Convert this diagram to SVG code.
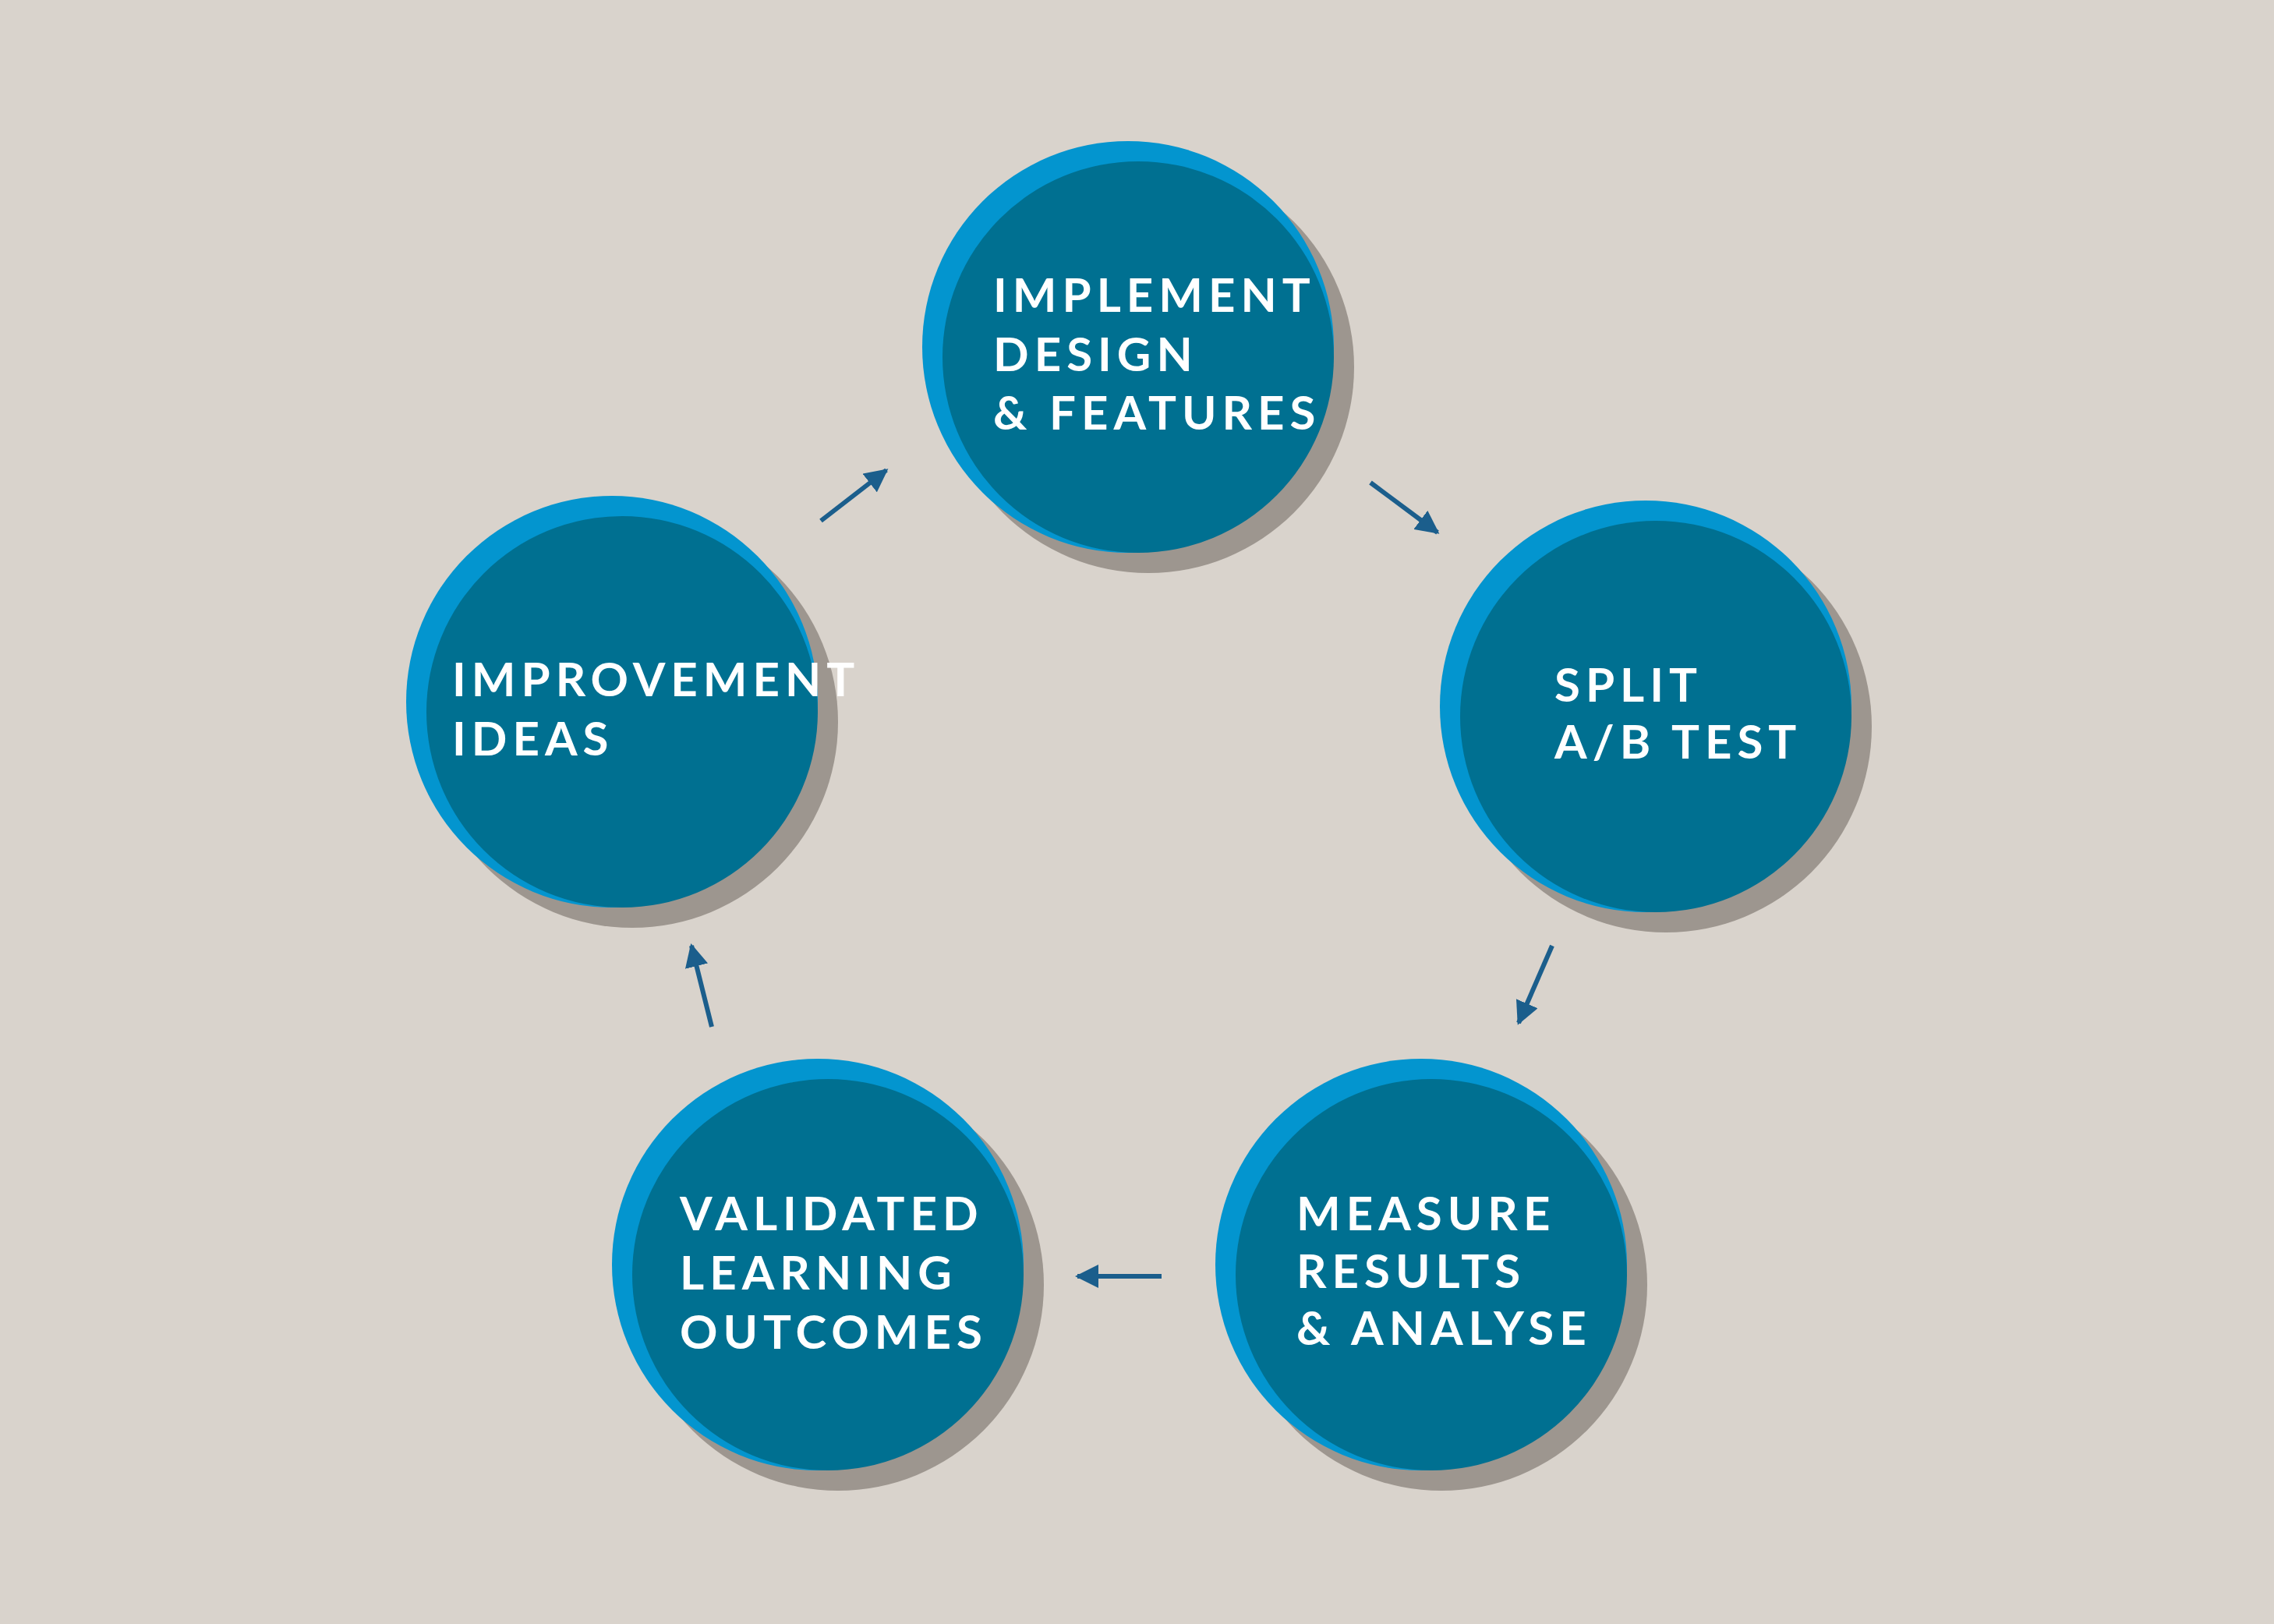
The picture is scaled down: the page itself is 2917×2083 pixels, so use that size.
<svg xmlns="http://www.w3.org/2000/svg" width="2917" height="2083" viewBox="0 0 2917 2083">
<defs>
<style>
.sh{fill:#9d968f}.lb{fill:#0395cf}.tl{fill:#007091}
.t{font-family:"Lato","Open Sans",sans-serif;font-weight:700;font-size:60px;fill:#fff;letter-spacing:7px}
.c{stroke:#1b5e8c;stroke-width:6;fill:none;marker-end:url(#ah)}
</style>
<marker id="ah" viewBox="0 0 10 10" refX="9" refY="5" markerWidth="5" markerHeight="5" orient="auto" markerUnits="strokeWidth"><path d="M0,0L10,5L0,10z" fill="#1b5e8c"/></marker>
</defs>
<rect width="2917" height="2083" fill="#d9d3cc"/>
<g id="n1"><circle class="sh" cx="1473" cy="471" r="264"/><circle class="lb" cx="1447" cy="445" r="264"/><circle class="tl" cx="1460" cy="458" r="251"/>
<text class="t" x="1274" y="400">IMPLEMENT</text><text class="t" x="1274" y="476">DESIGN</text><text class="t" x="1274" y="551">&amp; FEATURES</text></g>
<g id="n2"><circle class="sh" cx="2137" cy="932" r="264"/><circle class="lb" cx="2111" cy="906" r="264"/><circle class="tl" cx="2124" cy="919" r="251"/>
<text class="t" x="1994" y="900">SPLIT</text><text class="t" x="1994" y="973">A/B TEST</text></g>
<g id="n3"><circle class="sh" cx="1849" cy="1648" r="264"/><circle class="lb" cx="1823" cy="1622" r="264"/><circle class="tl" cx="1836" cy="1635" r="251"/>
<text class="t" x="1663" y="1578">MEASURE</text><text class="t" x="1663" y="1652">RESULTS</text><text class="t" x="1663" y="1725">&amp; ANALYSE</text></g>
<g id="n4"><circle class="sh" cx="1075" cy="1648" r="264"/><circle class="lb" cx="1049" cy="1622" r="264"/><circle class="tl" cx="1062" cy="1635" r="251"/>
<text class="t" x="872" y="1578">VALIDATED</text><text class="t" x="872" y="1654">LEARNING</text><text class="t" x="872" y="1730">OUTCOMES</text></g>
<g id="n5"><circle class="sh" cx="811" cy="926" r="264"/><circle class="lb" cx="785" cy="900" r="264"/><circle class="tl" cx="798" cy="913" r="251"/>
<text class="t" x="580" y="893">IMPROVEMENT</text><text class="t" x="580" y="969">IDEAS</text></g>
<g id="connectors">
<line class="c" x1="1053" y1="668" x2="1137" y2="603"/>
<line class="c" x1="1758" y1="619" x2="1844" y2="683"/>
<line class="c" x1="1991" y1="1213" x2="1948" y2="1312"/>
<line class="c" x1="1490" y1="1637" x2="1382" y2="1637"/>
<line class="c" x1="913" y1="1317" x2="887" y2="1213"/>
</g>
</svg>
